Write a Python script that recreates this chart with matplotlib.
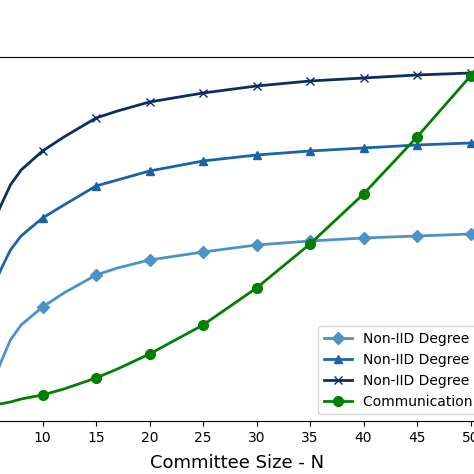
import numpy as np
import matplotlib.pyplot as plt

# committee size and curve readings (pixel-based estimates, normalised to 0..1)
N = [5, 6, 7, 8, 10, 12, 15, 17, 20, 25, 30, 35, 40, 45, 50, 52]
px_dark = [240, 208, 185, 170, 151, 137, 118, 111, 102, 93, 86, 81, 78, 75, 73, 72]
px_mid = [305, 272, 250, 236, 218, 205, 186, 180, 171, 161, 155, 151, 148, 145, 143, 142]
px_light = [400, 365, 340, 325, 307, 293, 275, 268, 260, 252, 245, 241, 238, 236, 234, 233]
px_comm = [407, 404, 402, 399, 395, 389, 378, 369, 354, 325, 288, 244, 194, 137, 76, 48]

def norm(p):
    return (421 - np.array(p)) / 364.0

marks = [0, 4, 6, 8, 9, 10, 11, 12, 13, 14]

fig = plt.figure(figsize=(4.74, 4.74), dpi=100)
# axes deliberately extends past the figure edges (cropped view)
ax = fig.add_axes([-11 / 474, 53 / 474, 535 / 474, 364 / 474])

ax.plot(N, norm(px_light), color='#4a93c6', lw=2, marker='D', ms=6, markevery=marks, label='Non-IID Degree = 0.2')
ax.plot(N, norm(px_mid), color='#1c63a6', lw=2, marker='^', ms=6, markevery=marks, label='Non-IID Degree = 0.5')
ax.plot(N, norm(px_dark), color='#0b2d64', lw=2, marker='x', ms=6, markevery=marks, label='Non-IID Degree = 0.8')
ax.plot(N, norm(px_comm), color='green', lw=2, marker='o', ms=7, markevery=marks, label='Communication Cost')

ax.set_xlim(5, 55)
ax.set_ylim(0, 1)
ax.set_xticks(range(10, 55, 5))
ax.set_yticks([])
ax.tick_params(labelsize=10)
ax.set_xlabel('Committee Size - N', fontsize=13)
ax.xaxis.set_label_coords((474 / 2 + 11) / 535, -0.09)
ax.legend(loc='lower right', fontsize=10)

fig.savefig('out.png', dpi=100)
